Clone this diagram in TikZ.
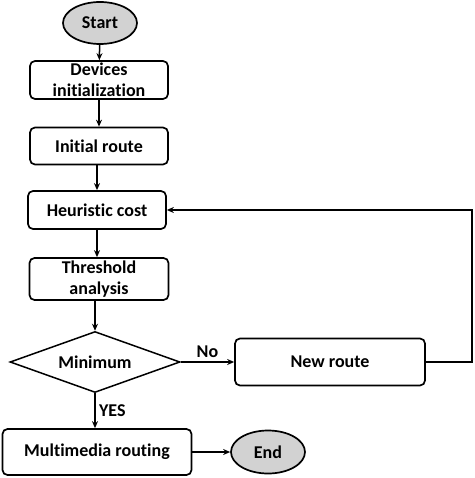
\documentclass[tikz,border=0pt]{standalone}
\usepackage{fontspec}
\setmainfont{Carlito}[Ligatures=NoCommon]
\usetikzlibrary{shapes.geometric,arrows.meta}
\definecolor{termgray}{RGB}{210,210,210}
\tikzset{
  box/.style = {draw, line width = 1.7pt, rounded corners = 5pt, align = center, inner sep = 0pt, font = \bfseries\fontsize{18}{21}\selectfont},
  term/.style = {draw, ellipse, line width = 1.7pt, fill = termgray, inner sep = 0pt, font = \bfseries\fontsize{18}{21}\selectfont},
  link/.style = {line width = 1.5pt, -{Stealth[length=7pt,width=6pt]}}
}
\begin{document}
\begin{tikzpicture}[x = 1pt, y = -1pt]

\useasboundingbox (0,0) rectangle (474,478);

\node[term, minimum width = 74, minimum height = 42] (v1) at (100,23) {Start};
\node[box, minimum width = 138, minimum height = 38] (v2) at (99,80) {Devices\\initialization};
\node[box, minimum width = 138, minimum height = 37] (v3) at (99,146) {Initial route};
\node[box, minimum width = 138, minimum height = 38] (v4) at (97,210) {Heuristic cost};
\node[box, minimum width = 139, minimum height = 42] (v5) at (99,279) {Threshold\\analysis};
\node[box, draw, diamond, shape aspect = 2.8, rounded corners = 0pt, minimum width = 170, minimum height = 61, line width = 1.5pt] (v6) at (95,362) {Minimum};
\node[box, minimum width = 190, minimum height = 47] (v7) at (330,362) {New route};
\node[box, minimum width = 189, minimum height = 46] (v8) at (97,452) {Multimedia routing};
\node[term, minimum width = 74, minimum height = 43] (v9) at (268,452) {End};

\coordinate (c1) at (472,362);

\draw [link] (v1) -- (v2);
\draw [link] (v2) -- (v3);
\draw [link] (v3.south -| v4) -- (v4);
\draw [link] (v4.south -| v5.south) ++(-2,0) -- ([xshift=-2pt]v5.north);
\draw [link] (v5.south -| v6) -- (v6);
\draw [link] (v6) -- node[above, font = \bfseries\fontsize{18}{21}\selectfont] {No} (v7);
\draw [link] (v6) -- node[right, font = \bfseries\fontsize{18}{21}\selectfont] {YES} (v8.north -| v6);
\draw [link] (v8) -- (v9);
\draw [line width = 1.7pt, -{Stealth[length=7pt,width=6pt]}] (v7) -- (c1) |- (v4);

\end{tikzpicture}
\end{document}
